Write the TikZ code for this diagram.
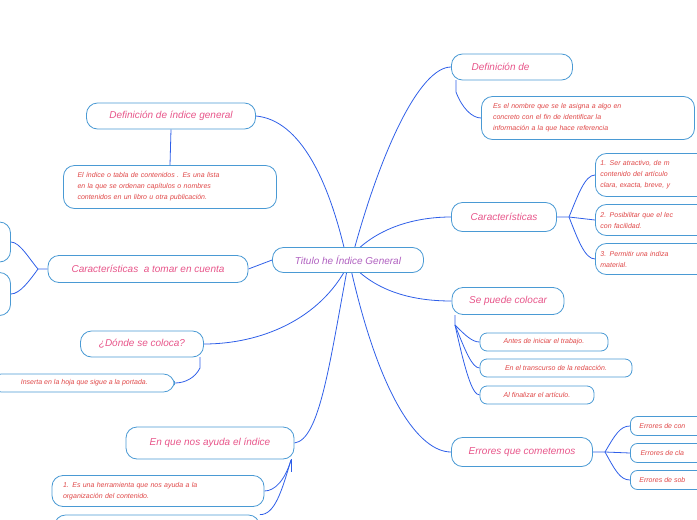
\documentclass[tikz,border=0pt]{standalone}
\usepackage{fontspec}
\setmainfont{Liberation Sans}
\pgfdeclarelayer{bg}
\pgfsetlayers{bg,main}
\begin{document}
\begin{tikzpicture}[x=1pt,y=-1pt,
  box/.style={draw=boxc,line width=0.8pt,rounded corners=11pt,fill=white,inner sep=0pt},
  ttl/.style={text=pinkc,font=\fontsize{10}{11}\selectfont\itshape},
  bod/.style={text=redc,font=\fontsize{7}{11}\selectfont\itshape,align=left},
  ln/.style={draw=linec,line width=0.8pt}]
\definecolor{boxc}{HTML}{4A9AD4}
\definecolor{linec}{HTML}{2F5FE8}
\definecolor{pinkc}{HTML}{E8558A}
\definecolor{redc}{HTML}{E04848}
\definecolor{purc}{HTML}{B060C0}
\useasboundingbox (0,0) rectangle (697,520);
\clip (0,0) rectangle (697,520);
% nodes
\node[box,minimum width=151,minimum height=25,text=purc,font=\fontsize{10}{11}\selectfont\itshape] (c) at (348,260) {Titulo he Índice General};
\node[box,ttl,minimum width=169,minimum height=26] (d1) at (171,116) {Definición de índice general};
\node[box,bod,minimum width=213,minimum height=43,text width=185] (d1t) at (170,187) {El índice o tabla de contenidos . Es una lista\\en la que se ordenan capítulos o nombres\\contenidos en un libro u otra publicación.};
\node[box,ttl,minimum width=200,minimum height=27] (ca) at (148,269) {Características\ \ a tomar en cuenta};
\node[box,minimum width=71,minimum height=40] (l1) at (-25,242) {};
\node[box,minimum width=71,minimum height=43] (l2) at (-25,294) {};
\node[box,ttl,minimum width=123,minimum height=26] (dn) at (142,344) {¿Dónde se coloca?};
\node[box,bod,minimum width=184,minimum height=18,anchor=west] (dnt) at (-10,383) {\ \ Inserta en la hoja que sigue a la portada.};
\node[box,ttl,minimum width=168,minimum height=32] (ay) at (210,443) {En que nos ayuda el índice};
\node[box,bod,minimum width=212,minimum height=31,text width=190] (ay1) at (158,491) {1. Es una herramienta que nos ayuda a la\\organización del contenido.};
\node[box,minimum width=205,minimum height=30] (ay2) at (157,530) {};
\node[box,ttl,minimum width=121,minimum height=26] (df) at (512,67) {Definición de \qquad\quad};
\node[box,bod,minimum width=213,minimum height=43,text width=190] (dft) at (588,118) {Es el nombre que se le asigna a algo en\\concreto con el fin de identificar la\\información a la que hace referencia};
\node[box,ttl,minimum width=105,minimum height=29] (cr) at (504,217) {Características};
\node[box,bod,minimum width=130,minimum height=43,anchor=west,text width=120] (cr1) at (595,175) {1. Ser atractivo, de m\\contenido del artículo\\clara, exacta, breve, y};
\node[box,bod,minimum width=130,minimum height=31,anchor=west,text width=120] (cr2) at (595,220) {2. Posibilitar que el lec\\con facilidad.};
\node[box,bod,minimum width=130,minimum height=31,anchor=west,text width=120] (cr3) at (595,259) {3. Permitir una indiza\\material.};
\node[box,ttl,minimum width=112,minimum height=27] (sp) at (508,301) {Se puede colocar};
\node[box,bod,minimum width=128,minimum height=18,rounded corners=7pt] (sp1) at (544,342) {Antes de iniciar el trabajo.};
\node[box,bod,minimum width=152,minimum height=18,rounded corners=7pt] (sp2) at (556,368) {En el transcurso de la redacción.};
\node[box,bod,minimum width=114,minimum height=18,rounded corners=7pt] (sp3) at (537,395) {Al finalizar el artículo.};
\node[box,ttl,minimum width=141,minimum height=29] (er) at (522,452) {Errores que cometemos};
\node[box,bod,minimum width=100,minimum height=19,anchor=west,rounded corners=7pt] (er1) at (630,426) {\ \ Errores de con\hspace{40pt}};
\node[box,bod,minimum width=100,minimum height=19,anchor=west,rounded corners=7pt] (er2) at (630,453) {\ \ Errores de cla\hspace{40pt}};
\node[box,bod,minimum width=100,minimum height=19,anchor=west,rounded corners=7pt] (er3) at (630,480) {\ \ Errores de sob\hspace{40pt}};
\begin{pgfonlayer}{bg}
\draw[ln] (348,265) .. controls (330,180) and (300,120) .. (d1.east);
\draw[ln] (c.west) -- (ca.east);
\draw[ln] (348,265) .. controls (320,320) and (260,344) .. (dn.east);
\draw[ln] (348,265) .. controls (330,360) and (320,440) .. (ay.east);
\draw[ln] (350,265) .. controls (380,150) and (420,67) .. (df.west);
\draw[ln] (352,255) .. controls (380,225) and (420,217) .. (cr.west);
\draw[ln] (352,265) .. controls (380,295) and (420,301) .. (sp.west);
\draw[ln] (350,265) .. controls (380,400) and (420,452) .. (er.west);
\draw[ln] (d1.south) -- (d1t.north);
\draw[ln] (ca.west) -- (38,269) .. controls (30,260) and (20,242) .. (l1.east);
\draw[ln] (38,269) .. controls (30,280) and (20,294) .. (l2.east);
\draw[ln] (200,357) -- (200,368) .. controls (195,378) and (185,383) .. (dnt.east);
\draw[ln] (291,460) .. controls (285,480) and (275,491) .. (ay1.east);
\draw[ln] (291,460) .. controls (282,490) and (275,515) .. (ay2.north east);
\draw[ln] (291,459) -- (291,472);
\draw[ln] (456,80) -- (456,92) .. controls (462,108) and (472,118) .. (dft.west);
\draw[ln] (cr.east) -- (569,217) .. controls (578,195) and (585,175) .. (cr1.west);
\draw[ln] (569,217) -- (cr2.west);
\draw[ln] (569,217) .. controls (578,240) and (585,259) .. (cr3.west);
\draw[ln] (455,315) -- (455,325) .. controls (465,335) and (472,342) .. (sp1.west);
\draw[ln] (455,325) .. controls (465,350) and (472,368) .. (sp2.west);
\draw[ln] (455,325) .. controls (465,370) and (472,395) .. (sp3.west);
\draw[ln] (er.east) -- (605,452) .. controls (615,435) and (620,426) .. (er1.west);
\draw[ln] (605,452) -- (er2.west);
\draw[ln] (605,452) .. controls (615,470) and (620,480) .. (er3.west);
\end{pgfonlayer}
\end{tikzpicture}
\end{document}
